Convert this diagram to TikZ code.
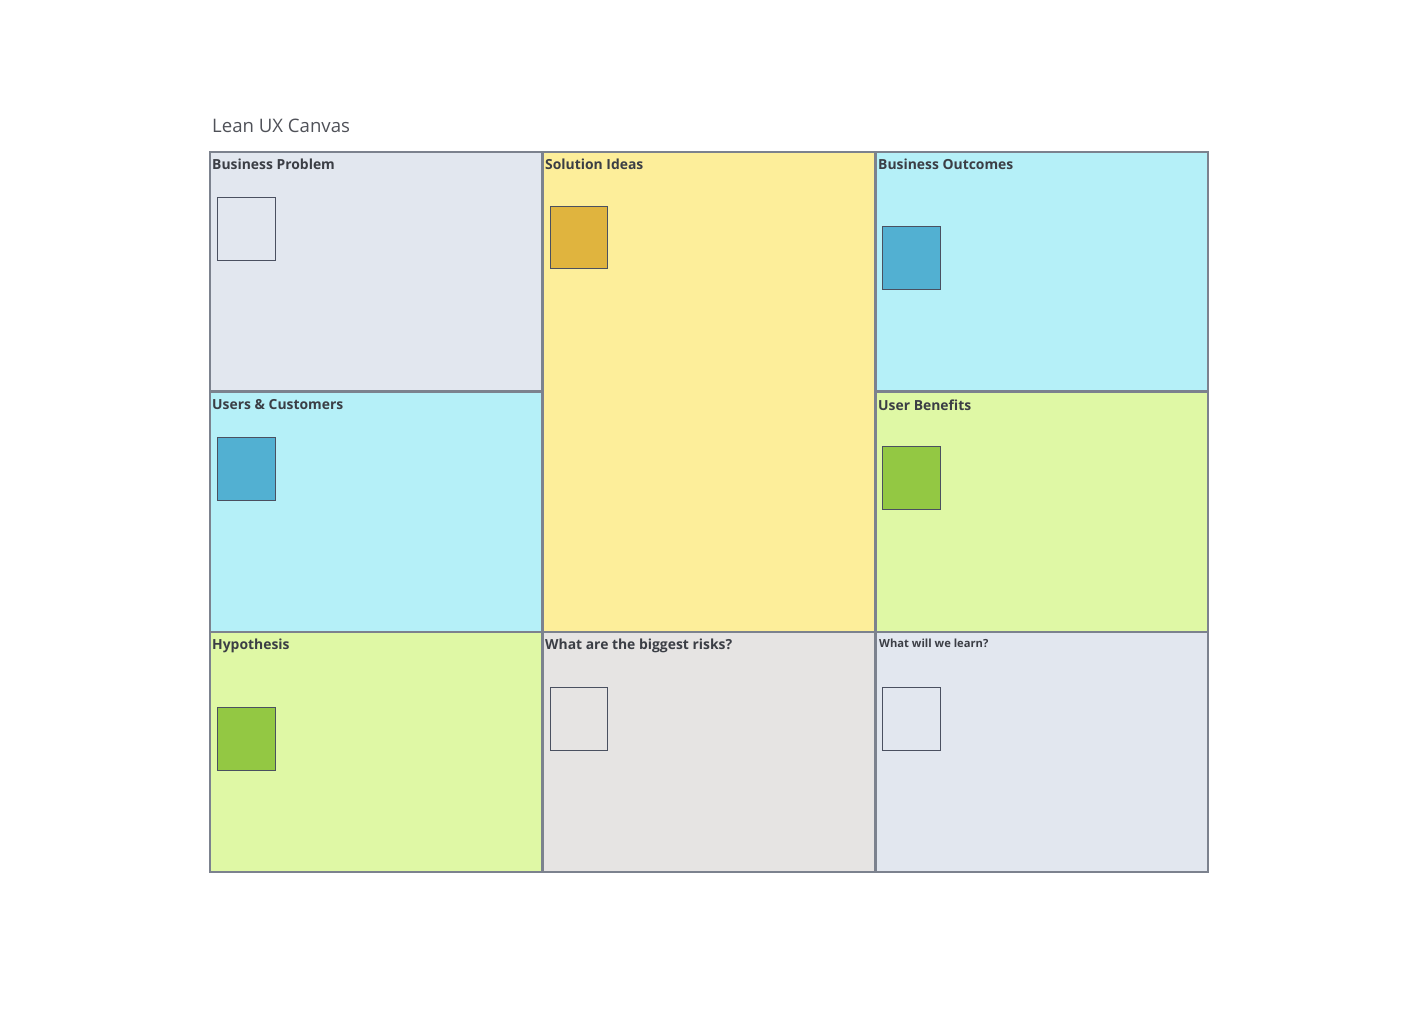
\documentclass[tikz,border=0pt]{standalone}
\usepackage{fontspec}
\setmainfont{Open Sans}
\definecolor{bordergray}{HTML}{7C828E}
\definecolor{txtgray}{HTML}{3B3E45}
\definecolor{fgray}{HTML}{E2E7EF}
\definecolor{fcyan}{HTML}{B5F0F8}
\definecolor{fyellow}{HTML}{FDEE9A}
\definecolor{fgreen}{HTML}{DFF8A5}
\definecolor{frisk}{HTML}{E6E4E3}
\definecolor{sgold}{HTML}{E0B43E}
\definecolor{sblue}{HTML}{52B0D2}
\definecolor{sgreen}{HTML}{93C843}
\definecolor{sqborder}{HTML}{4A5060}
\begin{document}
\begin{tikzpicture}[x=1pt,y=-1pt,
  panel/.style={draw=bordergray,line width=1.1pt},
  note/.style={draw=sqborder,line width=0.9pt},
  lbl/.style={anchor=west,inner sep=0pt,text=txtgray,font=\fontsize{13.9}{15}\selectfont\bfseries}]
\useasboundingbox (0,0) rectangle (1418,1024);
% panels
\path[panel,fill=fgray]   (210,152) rectangle (542,391);
\path[panel,fill=fcyan]   (210,392) rectangle (542,632);
\path[panel,fill=fgreen]  (210,632) rectangle (542,872);
\path[panel,fill=fyellow] (543,152) rectangle (875,632);
\path[panel,fill=frisk]   (543,632) rectangle (875,872);
\path[panel,fill=fcyan]   (876,152) rectangle (1208,391);
\path[panel,fill=fgreen]  (876,392) rectangle (1208,632);
\path[panel,fill=fgray]   (876,632) rectangle (1208,872);
% title
\node[anchor=west,inner sep=0pt,text=txtgray!90,font=\fontsize{18.6}{20}\selectfont] (title) at (212,126) {Lean UX Canvas};
% labels
\node[lbl] (l1) at (212,164.5) {Business Problem};
\node[lbl] (l2) at (545,164.5) {Solution Ideas};
\node[lbl] (l3) at (878,164.5) {Business Outcomes};
\node[lbl] (l4) at (212,405) {Users \& Customers};
\node[lbl] (l5) at (878,405) {User Benefits};
\node[lbl] (l6) at (212,646) {Hypothesis};
\node[lbl] (l7) at (545,646) {What are the biggest risks?};
\node[lbl,font=\fontsize{11.2}{13}\selectfont\bfseries] (l8) at (879,643) {What will we learn?};
% sticky notes
\path[note,fill=fgray]   (217,197) rectangle (275,260);
\path[note,fill=sgold]   (550,206) rectangle (607,268);
\path[note,fill=sblue]   (882,226) rectangle (940,289);
\path[note,fill=sblue]   (217,437) rectangle (275,500);
\path[note,fill=sgreen]  (882,446) rectangle (940,509);
\path[note,fill=sgreen]  (217,707) rectangle (275,770);
\path[note,fill=frisk]   (550,687) rectangle (607,750);
\path[note,fill=fgray]   (882,687) rectangle (940,750);
\end{tikzpicture}
\end{document}
